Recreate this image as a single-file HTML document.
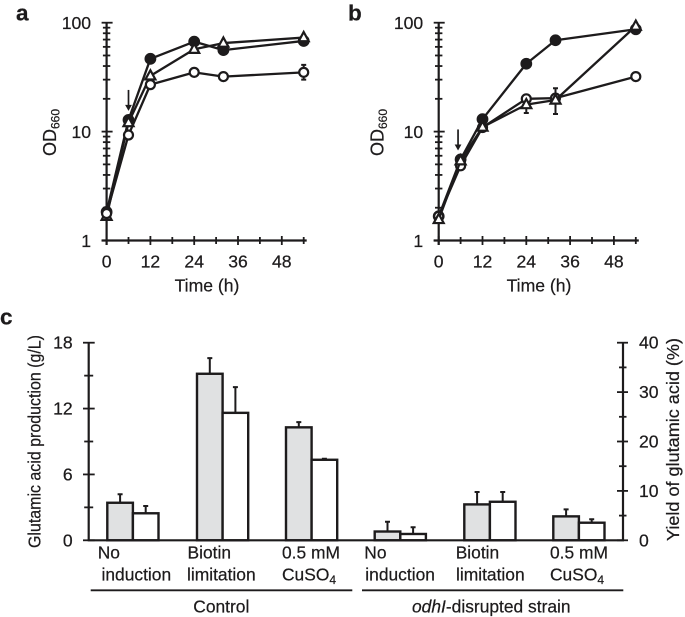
<!DOCTYPE html>
<html>
<head>
<meta charset="utf-8">
<title>Growth and glutamic acid production</title>
<style>
html,body{margin:0;padding:0;background:#fff;}
svg{display:block;}
text{font-family:"Liberation Sans",Arial,sans-serif;fill:#1d1b1c;stroke:#1d1b1c;stroke-width:0.22px;}
</style>
</head>
<body>
<svg id="fig" xmlns="http://www.w3.org/2000/svg" width="685" height="617" viewBox="0 0 685 617">
<rect x="0" y="0" width="685" height="617" fill="#fff"/>
<text x="16" y="20.5" font-size="22.5" font-weight="bold">a</text>
<text x="348" y="20.5" font-size="22.5" font-weight="bold">b</text>
<text x="0" y="324.5" font-size="22.5" font-weight="bold">c</text>

<text transform="translate(56 156) rotate(-90)" font-size="18">OD<tspan font-size="12" dy="3.5">660</tspan></text>
<text transform="translate(383.5 156) rotate(-90)" font-size="18">OD<tspan font-size="12" dy="3.5">660</tspan></text>
<text x="207" y="291.5" font-size="17.6" text-anchor="middle">Time (h)</text>
<text x="539" y="291.5" font-size="17.6" text-anchor="middle">Time (h)</text>

<text transform="translate(40.5 548) rotate(-90)" font-size="17.5" textLength="213" lengthAdjust="spacingAndGlyphs">Glutamic acid production (g/L)</text>
<text transform="translate(679 541) rotate(-90)" font-size="17.5" textLength="203" lengthAdjust="spacingAndGlyphs">Yield of glutamic acid (%)</text>

<g>
<text font-size="17.4"><tspan x="97.7" y="558.5">No</tspan><tspan x="101.5" y="580.5">induction</tspan></text>
<text font-size="17.4"><tspan x="187.5" y="558.5">Biotin</tspan><tspan x="187" y="580.5">limitation</tspan></text>
<text font-size="17.4"><tspan x="282" y="558.5">0.5 mM</tspan><tspan x="282" y="580.5">CuSO</tspan><tspan font-size="12" dy="3.5">4</tspan></text>
<text font-size="17.4"><tspan x="364.3" y="558.5">No</tspan><tspan x="365.3" y="580.5">induction</tspan></text>
<text font-size="17.4"><tspan x="455.7" y="558.5">Biotin</tspan><tspan x="456" y="580.5">limitation</tspan></text>
<text font-size="17.4"><tspan x="550" y="558.5">0.5 mM</tspan><tspan x="550" y="580.5">CuSO</tspan><tspan font-size="12" dy="3.5">4</tspan></text>
</g>
<line x1="90.7" x2="352.3" y1="590.3" y2="590.3" stroke="#1d1b1c" stroke-width="1.9"/>
<line x1="362" x2="623.3" y1="590.3" y2="590.3" stroke="#1d1b1c" stroke-width="1.9"/>
<text x="221.3" y="612.5" font-size="17.4" text-anchor="middle">Control</text>
<text x="491.3" y="612.5" font-size="17.4" text-anchor="middle"><tspan font-style="italic">odhI</tspan>-disrupted strain</text>

<g id="panelA"></g>
<g id="panelB"></g>
<g id="panelC"></g>
</svg>

<script>
// ---- growth curve data ----
const times = [0, 6, 12, 24, 32, 54];
const xTickHours = [0, 6, 12, 18, 24, 30, 36, 42, 48, 54];
const xTickLabels = [0, 12, 24, 36, 48];
const logTickLabels = [1, 10, 100];
const logTicks = [1, 2, 3, 4, 5, 6, 7, 8, 9, 10, 20, 30, 40, 50, 60, 70, 80, 90, 100];

const aFilled = [1.83, 12.8, 46.6, 67, 56, 68];
const aOpen = [1.77, 9.3, 27, 35, 32, 35];
const aTriangle = [1.67, 12.1, 32.5, 57, 65, 73];
const aOpenErrLow = [0, 0, 0, 0, 0, 30];
const aOpenErrHigh = [0, 0, 0, 0, 0, 41];

const bFilled = [1.67, 5.55, 13, 42, 69, 87];
const bOpen = [1.67, 4.85, 10.9, 20, 20.3, 32];
const bTriangle = [1.56, 5.4, 11, 17.7, 19.5, 93];
const bTriangleErrLow = [0, 0, 0, 14.8, 14.5, 0];
const bTriangleErrHigh = [0, 0, 0, 20.5, 25, 0];

// ---- bar chart data ----
const productionValues = [3.42, 15.17, 10.29, 0.8, 3.27, 2.18];
const productionErrTop = [4.19, 16.6, 10.77, 1.69, 4.4, 2.82];
const yieldValues = [5.47, 25.8, 16.3, 1.28, 7.8, 3.56];
const yieldErrTop = [6.94, 31, 16.5, 2.63, 9.78, 4.25];
const leftTickValues = [0, 3, 6, 9, 12, 15, 18];
const leftTickLabels = [0, 6, 12, 18];
const rightTickValues = [0, 5, 10, 15, 20, 25, 30, 35, 40];
const rightTickLabels = [0, 10, 20, 30, 40];

const INK = '#1d1b1c';
const NS = 'http://www.w3.org/2000/svg';
function mk(parent, tag, attrs) {
  const el = document.createElementNS(NS, tag);
  for (const k in attrs) el.setAttribute(k, attrs[k]);
  parent.appendChild(el);
  return el;
}

function drawGrowth(root, x0, series, errs, arrowHour, arrowValue) {
  const xA = t => x0 + t * 3.65;
  const yA = v => 240.5 - 108.9 * Math.log10(v);

  const yAxis = mk(root, 'line', {x1: xA(0), x2: xA(0), y1: yA(100), y2: yA(1) + 4.5, stroke: INK, 'stroke-width': 2.2});
  
  
  const xAxis = mk(root, 'line', {x1: xA(0) - 5, x2: xA(54) + 3, y1: yA(1), y2: yA(1), stroke: INK, 'stroke-width': 2.2});
  
  

  logTicks.forEach(v => {
    const major = logTickLabels.includes(v);
    const tick = mk(root, 'line', {x1: xA(0) - (major ? 5 : 3.7), x2: xA(0) + (major ? 6 : 3.7), y1: yA(v), y2: yA(v), stroke: INK, 'stroke-width': 1.8});
    
    
  });
  logTickLabels.forEach(v => {
    const t = mk(root, 'text', {x: xA(0) - 15.5, y: yA(v) + 6.3, 'font-size': 17.6, 'text-anchor': 'end'});
    t.textContent = v;
    
    
  });
  xTickHours.forEach(h => {
    const major = xTickLabels.includes(h);
    const tick = mk(root, 'line', {x1: xA(h), x2: xA(h), y1: yA(1) - (major ? 4.5 : 3.5), y2: yA(1) + (major ? 4.5 : 3.5), stroke: INK, 'stroke-width': 1.8});
    
    
  });
  xTickLabels.forEach(h => {
    const t = mk(root, 'text', {x: xA(h), y: 267.5, 'font-size': 17.6, 'text-anchor': 'middle'});
    t.textContent = h;
    
    
  });

  errs.forEach(e => {
    times.forEach((t, i) => {
      if (!e.low[i]) return;
      const bar = mk(root, 'path', {
        d: 'M' + (xA(t) - 2.5) + ' ' + yA(e.low[i]) + 'H' + (xA(t) + 2.5) +
           'M' + xA(t) + ' ' + yA(e.low[i]) + 'V' + yA(e.high[i]) +
           'M' + (xA(t) - 2.5) + ' ' + yA(e.high[i]) + 'H' + (xA(t) + 2.5),
        fill: 'none', stroke: INK, 'stroke-width': 2});
      
      
    });
  });

  series.forEach(s => {
    const pts = times.map((t, i) => xA(t) + ',' + yA(s.values[i])).join(' ');
    const line = mk(root, 'polyline', {points: pts, fill: 'none', stroke: INK, 'stroke-width': 2.3, 'stroke-linejoin': 'round'});
    
    
    times.forEach((t, i) => {
      const cx = xA(t), cy = yA(s.values[i]);
      let m;
      if (s.shape === 'tri') {
        m = mk(root, 'path', {d: 'M' + cx + ' ' + (cy - 5.6) + 'L' + (cx + 5) + ' ' + (cy + 3.6) + 'H' + (cx - 5) + 'Z', fill: '#fff', stroke: INK, 'stroke-width': 2.2, 'stroke-linejoin': 'miter'});
      } else {
        m = mk(root, 'circle', {cx: cx, cy: cy, r: s.shape === 'filled' ? 4.8 : 4.5, fill: s.shape === 'filled' ? INK : '#fff', stroke: INK, 'stroke-width': 2.2});
      }
      
      
    });
  });

  const ax = xA(arrowHour), ay = yA(arrowValue);
  const arrow = mk(root, 'path', {d: 'M' + ax + ' ' + (ay - 30) + 'V' + (ay - 13), fill: 'none', stroke: INK, 'stroke-width': 1.7});
  
  
  const head = mk(root, 'path', {d: 'M' + (ax - 3.4) + ' ' + (ay - 15) + 'H' + (ax + 3.4) + 'L' + ax + ' ' + (ay - 9) + 'Z', fill: INK});
  
  
}

drawGrowth(document.getElementById('panelA'), 106.6,
  [{name: 'filled-circle', shape: 'filled', values: aFilled},
   {name: 'triangle', shape: 'tri', values: aTriangle},
   {name: 'open-circle', shape: 'open', values: aOpen}],
  [{low: aOpenErrLow, high: aOpenErrHigh}], 6, 12.8);

drawGrowth(document.getElementById('panelB'), 438.7,
  [{name: 'filled-circle', shape: 'filled', values: bFilled},
   {name: 'open-circle', shape: 'open', values: bOpen},
   {name: 'triangle', shape: 'tri', values: bTriangle}],
  [{low: bTriangleErrLow, high: bTriangleErrHigh}], 5.3, 5.55);

// ---- panel c ----
(function () {
  const root = document.getElementById('panelC');
  const baseY = 540.3, xL = 88.7, xR = 623;
  const yL = v => baseY - v * 197.6 / 18;
  const yR = v => baseY - v * 197.6 / 40;
  const groupLeft = [107.3, 197, 286, 374.7, 464.3, 553.3];
  const barW = 25.6;

  productionValues.forEach((v, i) => {
    const gx = groupLeft[i];
    const ge = mk(root, 'path', {d: 'M' + (gx + barW / 2) + ' ' + yL(v) + 'V' + yL(productionErrTop[i]) + 'M' + (gx + barW / 2 - 2.5) + ' ' + yL(productionErrTop[i]) + 'H' + (gx + barW / 2 + 2.5), fill: 'none', stroke: INK, 'stroke-width': 2});
    
    
    const we = mk(root, 'path', {d: 'M' + (gx + barW * 1.5) + ' ' + yR(yieldValues[i]) + 'V' + yR(yieldErrTop[i]) + 'M' + (gx + barW * 1.5 - 2.5) + ' ' + yR(yieldErrTop[i]) + 'H' + (gx + barW * 1.5 + 2.5), fill: 'none', stroke: INK, 'stroke-width': 2});
    
    
    const g = mk(root, 'rect', {x: gx, y: yL(v), width: barW, height: baseY - yL(v), fill: '#e0e1e2', stroke: INK, 'stroke-width': 2.4});
    
    
    const w = mk(root, 'rect', {x: gx + barW, y: yR(yieldValues[i]), width: barW, height: baseY - yR(yieldValues[i]), fill: '#fff', stroke: INK, 'stroke-width': 2.4});
    
    
  });

  const base = mk(root, 'line', {x1: xL - 1, x2: xR + 1, y1: baseY, y2: baseY, stroke: INK, 'stroke-width': 2.2});
  
  
  const la = mk(root, 'line', {x1: xL, x2: xL, y1: yL(18), y2: baseY, stroke: INK, 'stroke-width': 2.2});
  
  
  const ra = mk(root, 'line', {x1: xR, x2: xR, y1: yR(40), y2: baseY, stroke: INK, 'stroke-width': 2.2});
  
  

  leftTickValues.forEach(v => {
    const major = leftTickLabels.includes(v);
    const t = mk(root, 'line', {x1: xL - (major ? 5.7 : 4.5), x2: xL + (major ? 6 : 4.5), y1: yL(v), y2: yL(v), stroke: INK, 'stroke-width': 1.8});
    
    
  });
  leftTickLabels.forEach(v => {
    const t = mk(root, 'text', {x: 72.7, y: yL(v) + 6, 'font-size': 17.6, 'text-anchor': 'end'});
    t.textContent = v;
    
    
  });
  rightTickValues.forEach(v => {
    const major = rightTickLabels.includes(v);
    const t = mk(root, 'line', {x1: xR - (major ? 6 : 4), x2: xR + (major ? 5 : 3.5), y1: yR(v), y2: yR(v), stroke: INK, 'stroke-width': 1.8});
    
    
  });
  rightTickLabels.forEach(v => {
    const t = mk(root, 'text', {x: 639, y: yR(v) + 6, 'font-size': 17.6});
    t.textContent = v;
    
    
  });
})();
</script>
</body>
</html>
